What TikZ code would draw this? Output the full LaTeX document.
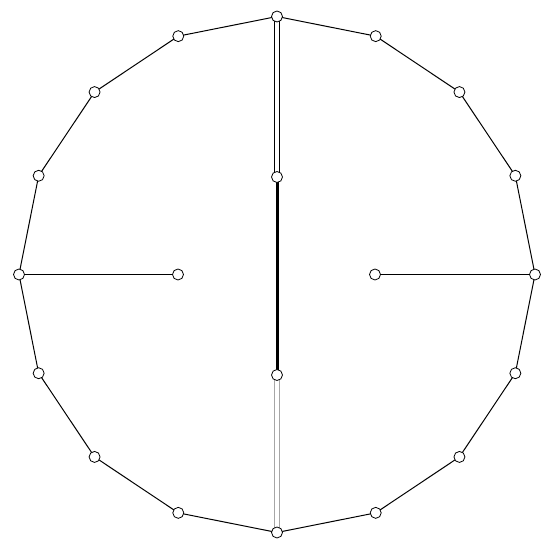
\documentclass[tikz,border=0pt]{standalone}
\begin{document}
\begin{tikzpicture}[x=1pt,y=1pt,
  vtx/.style={circle,draw=black,fill=white,inner sep=0pt,minimum size=11pt,line width=0.8pt},
  edge/.style={line width=1pt,black},
  dbl/.style={double=white,double distance=3.4pt,line width=1pt,draw=black},
  dblgray/.style={double=white,double distance=3.4pt,line width=1pt,draw=gray!70},
  heavy/.style={line width=3pt,black}]
\useasboundingbox (0,0) rectangle (550,549);
\coordinate (c) at (277,274.5);
\foreach \i in {0,...,15}{
  \path (c) ++({90-22.5*\i}:258) coordinate (p\i);
}
\foreach \i [evaluate=\i as \j using {int(mod(\i+1,16))}] in {0,...,15}{
  \draw[edge] (p\i) -- (p\j);
}
\path (c) ++(90:97.5) coordinate (qt);
\path (c) ++(270:100.5) coordinate (qb);
\path (c) ++(180:99) coordinate (ql);
\path (c) ++(0:98) coordinate (qr);
\draw[dbl] (p0) -- (qt);
\draw[heavy] (qt) -- (qb);
\draw[dblgray] (qb) -- (p8);
\draw[edge] (p12) -- (ql);
\draw[edge] (qr) -- (p4);
\foreach \i in {0,...,15}{ \node[vtx] (n\i) at (p\i) {}; }
\node[vtx] (t) at (qt) {};
\node[vtx] (b) at (qb) {};
\node[vtx] (l) at (ql) {};
\node[vtx] (r) at (qr) {};
\end{tikzpicture}
\end{document}
